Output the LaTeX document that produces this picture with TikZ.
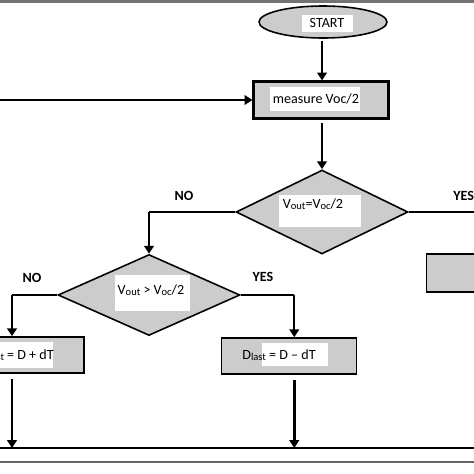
\documentclass[tikz,border=0pt]{standalone}
\usepackage{fontspec}
\setmainfont{Carlito}
\usetikzlibrary{shapes.geometric,arrows.meta}

\newcommand{\lowtxt}[1]{{\fontsize{6}{6}\selectfont\raisebox{-0.5pt}{#1}}}

\tikzset{
  grayshape/.style={draw, fill=black!20, line width=0.9pt, inner sep=0pt},
  flowtext/.style={font=\fontsize{8}{9}\selectfont, inner sep=0pt},
  yesno/.style={font=\fontsize{8}{9}\selectfont\bfseries, inner sep=0pt},
  flowarrow/.style={line width=1.7pt, -{Triangle[length=4.5pt,width=5.5pt]}},
  thinarrow/.style={line width=0.9pt, -{Triangle[length=4.5pt,width=5.5pt]}},
  branch/.style={line width=1pt},
}

\begin{document}
\begin{tikzpicture}[x=0.02cm, y=-0.02cm]
      \useasboundingbox (0,0) rectangle (474,474);
      \clip (0,0) rectangle (474,474);
      \fill[white] (0,0) rectangle (474,474);
      \fill[black!55] (0,0) rectangle (474,3);
      \draw[black!60, line width=0.6pt] (0,462) -- (474,462);

      \node[grayshape, ellipse, minimum width=2.56cm, minimum height=0.64cm] (start) at (323,22) {};
      \node[grayshape, line width=1.2pt, minimum width=2.7cm, minimum height=0.74cm] (measure) at (321,100) {};
      \node[grayshape, diamond, minimum width=3.44cm, minimum height=1.68cm] (cmpeq) at (322,212) {};
      \node[grayshape, diamond, minimum width=3.64cm, minimum height=1.62cm] (cmpgt) at (149,295) {};
      \node[grayshape, minimum width=2.88cm, minimum height=0.72cm] (incr) at (12,355) {};
      \node[grayshape, minimum width=2.7cm, minimum height=0.72cm] (decr) at (289,356) {};
      \node[grayshape, minimum width=2.7cm, minimum height=0.76cm] (hold) at (494,273) {};

      \fill[white] (302,15) rectangle (353,32);
      \fill[white] (270,87) rectangle (360,111);
      \fill[white] (279,195) rectangle (361,227);
      \fill[white] (115,275) rectangle (190,311);
      \fill[white] (-20,342) rectangle (53,368);
      \fill[white] (262,343) rectangle (328,366);

      \node[flowtext] (starttxt) at (327,23) {START};
      \node[flowtext] (measuretxt) at (316,99) {measure Voc/2};
      \node[flowtext] (cmpeqtxt) at (313,204) {V\lowtxt{out}=V\lowtxt{oc}/2};
      \node[flowtext] (cmpgttxt) at (151,290) {V\lowtxt{out} > V\lowtxt{oc}/2};
      \node[flowtext, anchor=east] (incrtxt) at (54,355) {D\lowtxt{last} = D + dT};
      \node[flowtext] (decrtxt) at (279,355) {D\lowtxt{last} = D -- dT};

      \node[yesno] (noeq) at (184,196) {NO};
      \node[yesno, anchor=west] (yeseq) at (453,196) {YES};
      \node[yesno] (nogt) at (32,278) {NO};
      \node[yesno] (yesgt) at (263,277) {YES};

      \coordinate (loopin) at (-5,100);
      \coordinate (yesout) at (480,212);
      \coordinate (busL) at (-5,448);
      \coordinate (busR) at (480,448);

      \draw[flowarrow, shorten <=1pt] (cmpeq.north |- start.south) -- (cmpeq.north |- measure.north);
      \draw[thinarrow] (loopin) -- (measure.west);
      \draw[flowarrow, shorten <=2pt] (cmpeq.north |- measure.south) -- (cmpeq.north);
      \draw[branch] (cmpeq.west) -| (cmpgt.north |- cmpeq.west);
      \draw[thinarrow, line width=1.2pt] (cmpgt.north |- cmpeq.west) -- (cmpgt.north);
      \draw[branch] (cmpeq.east) -- (yesout);
      \draw[branch] (cmpgt.west) -| (incr.north |- cmpgt.west);
      \draw[thinarrow, line width=1.2pt] (incr.north |- cmpgt.west) -- (incr.north);
      \draw[branch] (cmpgt.east) -| ([xshift=3pt]decr.north |- cmpgt.east);
      \draw[thinarrow, line width=1.2pt] ([xshift=3pt]decr.north |- cmpgt.east) -- ([xshift=3pt]decr.north);
      \draw[flowarrow, shorten <=3pt] (incr.south) -- (incr.south |- busL);
      \draw[flowarrow, shorten <=3pt] ([xshift=3pt]decr.south) -- ([xshift=3pt]decr.south |- busL);
      \draw[line width=1.3pt] (busL) -- (busR);
\end{tikzpicture}
\end{document}
